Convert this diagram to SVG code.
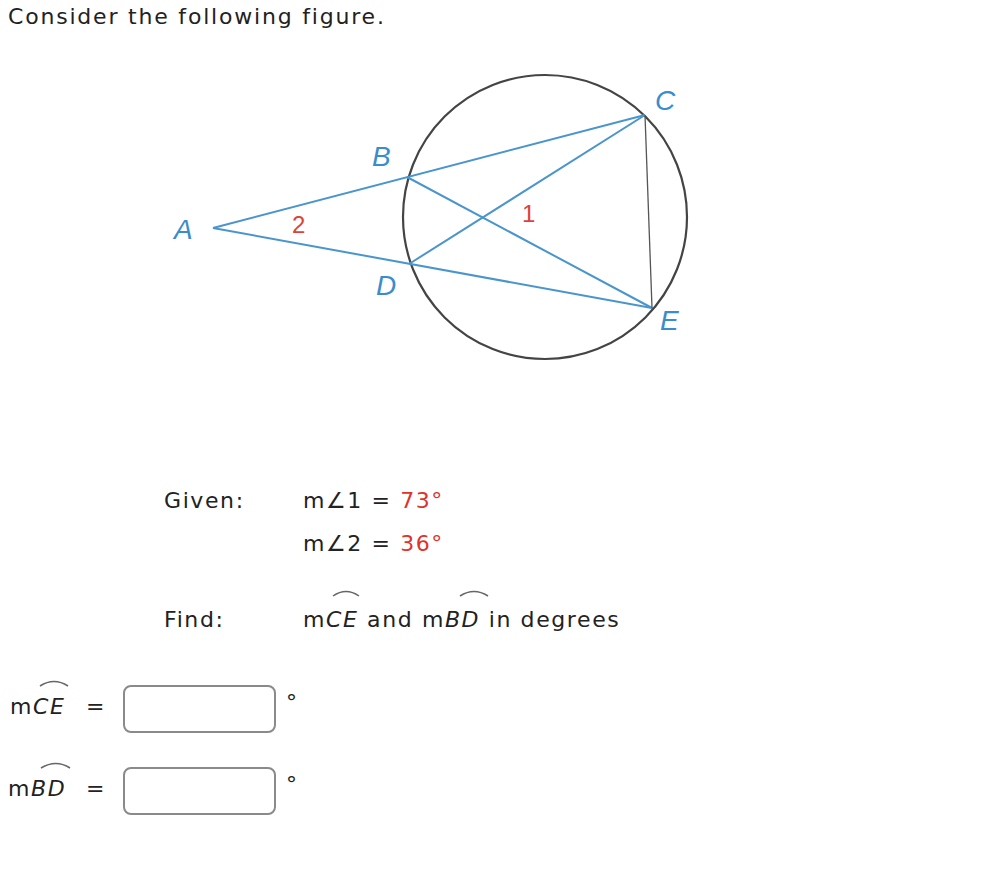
<svg xmlns="http://www.w3.org/2000/svg" width="991" height="878" viewBox="0 0 991 878">
<style>
text{font-family:"DejaVu Sans",Verdana,sans-serif;font-size:22px;letter-spacing:1.6px;fill:#222}
.lab{font-family:"Liberation Sans",Arial,sans-serif;font-style:italic;font-size:28px;letter-spacing:0;fill:#3b8ccb}
.num{font-family:"Liberation Sans",Arial,sans-serif;font-size:24px;letter-spacing:0;fill:#e0413a}
.red{fill:#e0332b}
.seg{stroke:#4a95cc;stroke-width:2;fill:none}
.box{fill:#fff;stroke:#8a8a8a;stroke-width:2}
.arc{fill:none;stroke:#666;stroke-width:1.5}
</style>
<rect width="991" height="878" fill="#fff"/>
<text x="8" y="24" font-size="24" style="letter-spacing:1.8px">Consider the following figure.</text>
<g id="circle"><circle cx="545" cy="217" r="142" fill="none" stroke="#444" stroke-width="2.2"/></g>
<g id="connectors">
<line class="seg" x1="213" y1="228" x2="645" y2="115"/>
<line class="seg" x1="213" y1="228" x2="652" y2="308"/>
<line class="seg" x1="407" y1="177" x2="652" y2="308"/>
<line class="seg" x1="409" y1="264" x2="645" y2="115"/>
<line x1="645" y1="115" x2="652" y2="308" stroke="#555" stroke-width="1.3"/>
</g>
<g id="labels">
<text class="lab" x="174" y="239">A</text>
<text class="lab" x="372" y="166">B</text>
<text class="lab" x="655" y="110">C</text>
<text class="lab" x="376" y="295">D</text>
<text class="lab" x="660" y="330">E</text>
<text class="num" x="292" y="233">2</text>
<text class="num" x="522" y="222">1</text>
</g>
<text x="164" y="508">Given:</text>
<text x="303" y="508">m∠1 = <tspan class="red">73°</tspan></text>
<text x="303" y="551">m∠2 = <tspan class="red">36°</tspan></text>
<text x="164" y="627">Find:</text>
<text x="303" y="627">m<tspan font-style="italic">CE</tspan> and m<tspan font-style="italic">BD</tspan> in degrees</text>
<path class="arc" d="M333 596 Q346 587 359 596"/>
<path class="arc" d="M460 596 Q474 587 488 596"/>
<text x="10" y="714">m<tspan font-style="italic">CE</tspan></text>
<text x="86" y="714">=</text>
<path class="arc" d="M40 686 Q54 677 68 686"/>
<rect class="box" x="124" y="686" width="151" height="46" rx="7"/>
<text x="286" y="710" font-size="18">°</text>
<text x="8" y="796">m<tspan font-style="italic">BD</tspan></text>
<text x="86" y="796">=</text>
<path class="arc" d="M41 768 Q56 759 70 768"/>
<rect class="box" x="124" y="768" width="151" height="46" rx="7"/>
<text x="286" y="792" font-size="18">°</text>
</svg>
